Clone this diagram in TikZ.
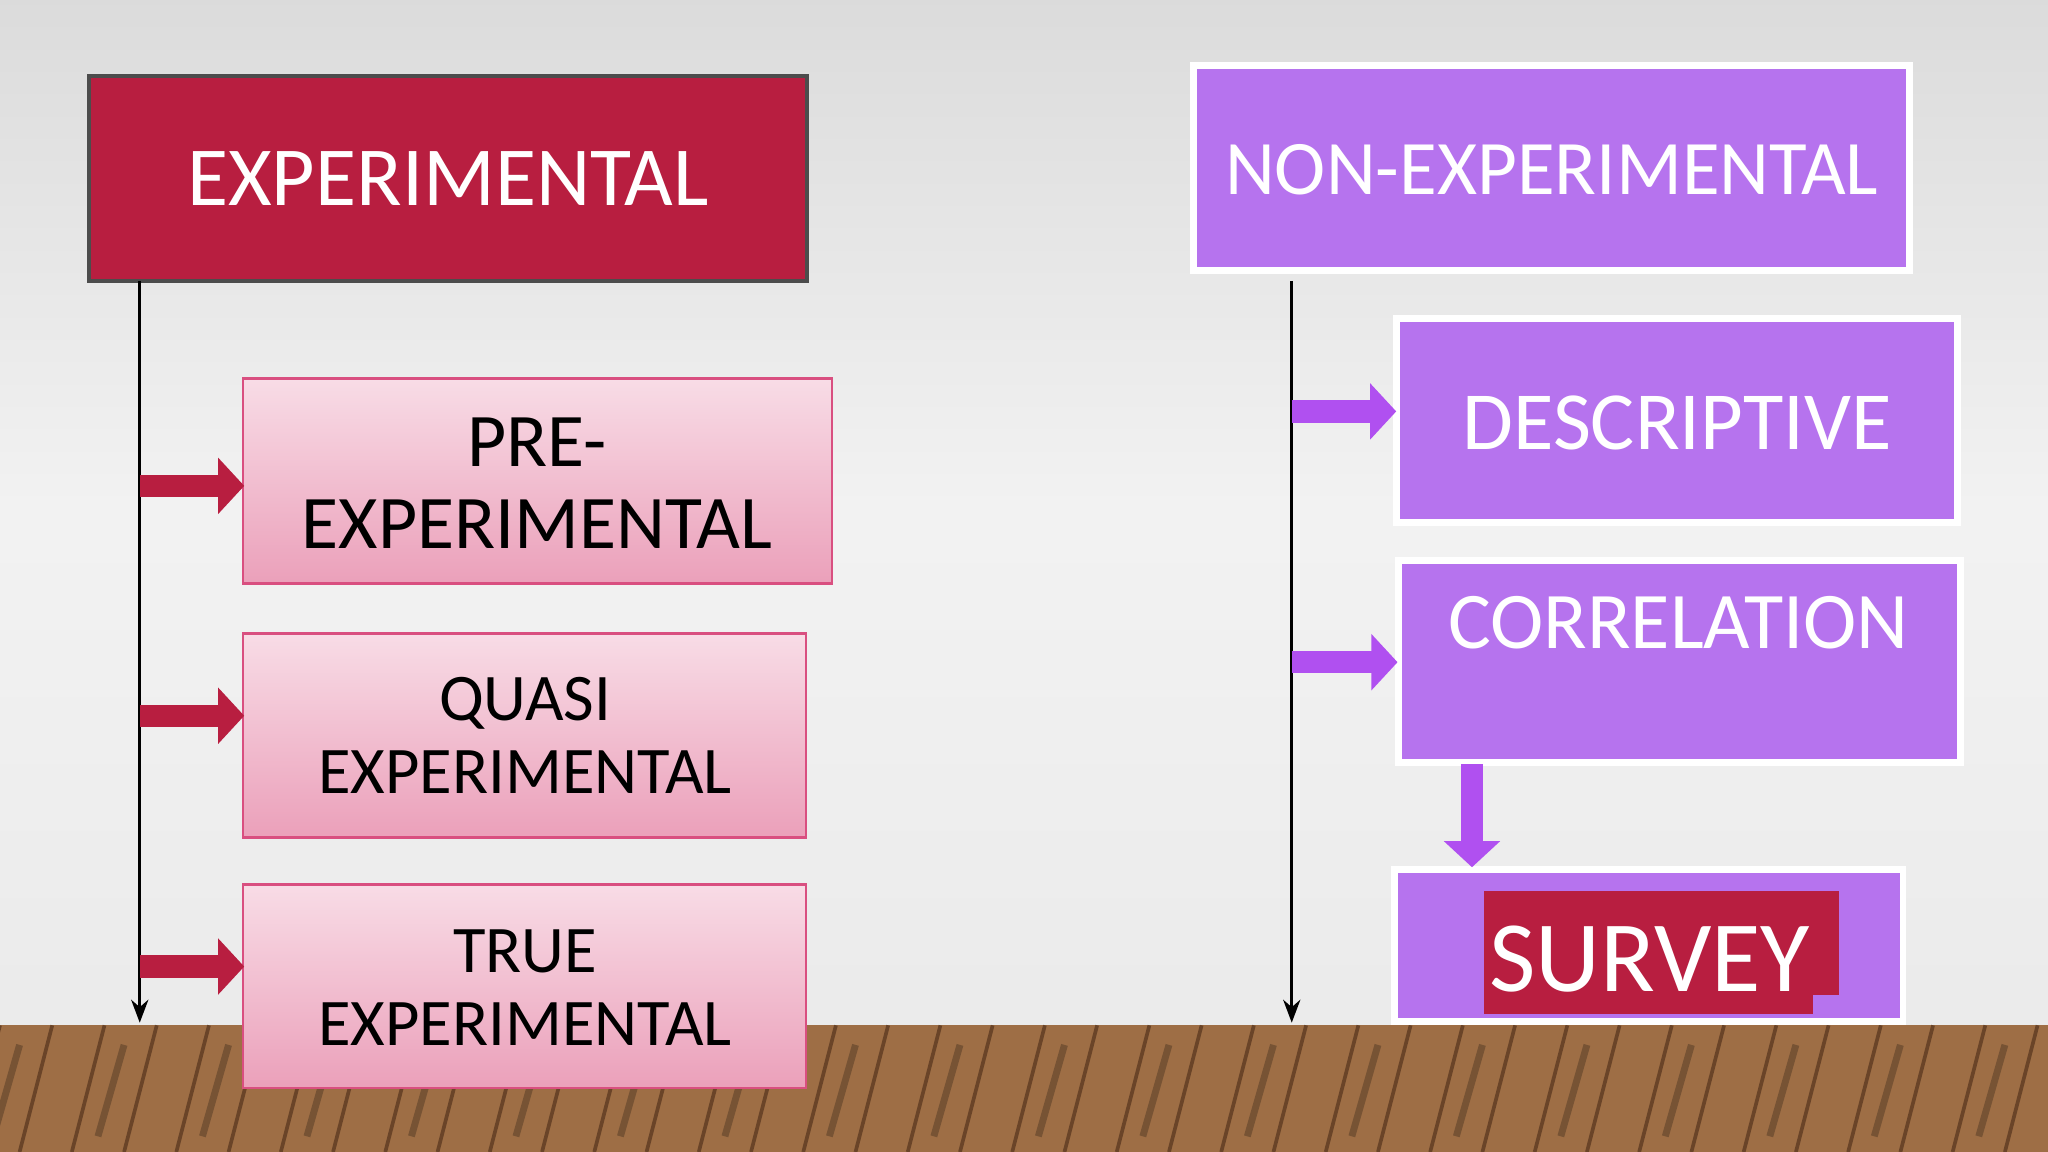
\documentclass[tikz,border=0pt]{standalone}
\usepackage{fontspec}
\setmainfont{Carlito}
\usetikzlibrary{arrows.meta}
\definecolor{crim}{HTML}{B81E40}
\definecolor{lilac}{HTML}{B673EE}
\definecolor{violet}{HTML}{B050F0}
\definecolor{pinkT}{HTML}{F8DCE6}
\definecolor{pinkB}{HTML}{EBA0BA}
\definecolor{pinkE}{HTML}{D94F80}
\definecolor{wood}{HTML}{9E6E45}
\definecolor{woodd}{HTML}{6A4428}
\begin{document}
\begin{tikzpicture}[x=0.01cm,y=-0.01cm,
  redbox/.style={draw=black!70,fill=crim,text=white,line width=0.8pt},
  pinkbox/.style={draw=pinkE,top color=pinkT,bottom color=pinkB,text=black,line width=0.6pt},
  lilbox/.style={draw=white,fill=lilac,text=white,line width=1.5pt},
  redarrow/.style={crim,line width=0.17cm,-{Triangle[length=0.2cm,width=0.42cm]},draw=crim},
  violarrow/.style={violet,line width=0.17cm,-{Triangle[length=0.2cm,width=0.42cm]}},
  axis/.style={black,line width=0.6pt,-{Stealth[length=5pt]}}]
\useasboundingbox (0,0) rectangle (1568,882);
\shade[top color=black!14,bottom color=black!8,middle color=black!5] (0,0) rectangle (1568,785);
\fill[wood] (0,785) rectangle (1568,882);
\foreach \i in {0,...,40}{\draw[woodd,line width=0.8pt] (\i*40,785) -- (\i*40-25,882);}
\foreach \i in {0,...,20}{\draw[black!25!wood,line width=1.5pt] (\i*80+15,800) -- (\i*80-5,870);}
% left
\path[redbox] (68,58) rectangle (618,215);
\node[text=white,font=\fontsize{18.3}{22}\selectfont] (exp) at (343,137) {EXPERIMENTAL};
\path[pinkbox] (186,290) rectangle (637,447);
\node[align=center,font=\fontsize{16.5}{18}\selectfont] (pre) at (411,370) {PRE-\\EXPERIMENTAL};
\path[pinkbox] (186,485) rectangle (617,641);
\node[align=center,font=\fontsize{14.5}{16}\selectfont] (quasi) at (402,563) {QUASI\\EXPERIMENTAL};
\path[pinkbox] (186,677) rectangle (617,833);
\node[align=center,font=\fontsize{14.5}{16}\selectfont] (true) at (402,756) {TRUE\\EXPERIMENTAL};
\coordinate (la) at (107,215); \coordinate (lb) at (107,783);
\draw[axis] (la) -- (lb);
\foreach \y/\t in {372/a,548/b,740/c}{
  \coordinate (s\t) at (107,\y); \coordinate (e\t) at (187,\y);
  \draw[redarrow] (s\t) -- (e\t);}
% right
\path[lilbox] (914,50) rectangle (1462,207);
\node[text=white,font=\fontsize{16.8}{20}\selectfont] (nonexp) at (1188,130) {NON-EXPERIMENTAL};
\path[lilbox] (1069,244) rectangle (1499,400);
\node[text=white,font=\fontsize{18}{22}\selectfont] (desc) at (1284,324) {DESCRIPTIVE};
\path[lilbox] (1071,429) rectangle (1501,584);
\node[text=white,font=\fontsize{17.5}{21}\selectfont] (corr) at (1285,477) {CORRELATION};
\path[lilbox] (1068,666) rectangle (1457,782);
\fill[crim] (1136,682) rectangle (1408,762);
\fill[crim] (1136,760) rectangle (1388,776);
\node[text=white,font=\fontsize{22}{26}\selectfont] (survey) at (1263,734) {SURVEY};
\coordinate (ra) at (989,215); \coordinate (rb) at (989,783);
\draw[axis] (ra) -- (rb);
\coordinate (sd) at (989,315); \coordinate (ed) at (1069,315);
\coordinate (sc) at (989,507); \coordinate (ec) at (1070,507);
\draw[violarrow] (sd) -- (ed);
\draw[violarrow] (sc) -- (ec);
\coordinate (su) at (1127,585); \coordinate (eu) at (1127,664);
\draw[violarrow] (su) -- (eu);
\end{tikzpicture}
\end{document}
